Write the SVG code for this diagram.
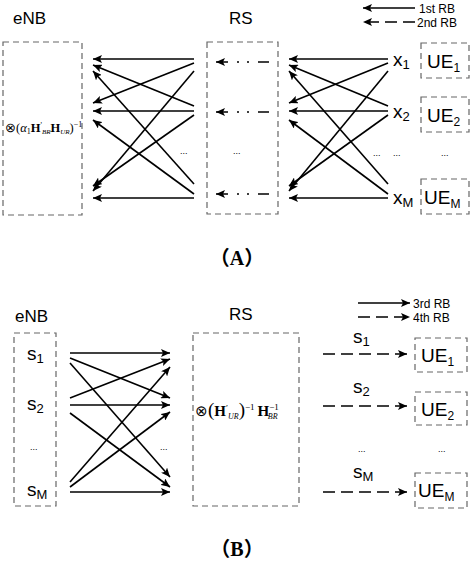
<svg xmlns="http://www.w3.org/2000/svg" width="474" height="566" viewBox="0 0 474 566">
<defs>
<marker id="ah" markerUnits="userSpaceOnUse" markerWidth="10" markerHeight="8" refX="9" refY="4" orient="auto">
<path d="M0,0 L9,4 L0,8 L2,4 Z" fill="#000"/>
</marker>
<style>
.box{fill:none;stroke:#666;stroke-width:1.2;stroke-dasharray:6 4}
.ln{stroke:#000;stroke-width:1.6;fill:none;marker-end:url(#ah)}
.dl{stroke:#000;stroke-width:1.6;fill:none;stroke-dasharray:12 6;marker-end:url(#ah)}
.dd{stroke:#000;stroke-width:1.6;fill:none;stroke-dasharray:11 9 2 8 2 9 30;marker-end:url(#ah)}
.t{font-family:"Liberation Sans",Arial,sans-serif;fill:#000}
.f{font-family:"Liberation Serif","Times New Roman",serif;fill:#000}
.cap{font-family:"Liberation Serif","Noto Sans CJK SC",serif;font-weight:bold;font-size:20px;fill:#000}
</style>
</defs>
<rect width="474" height="566" fill="#fff"/>

<!-- Panel A -->
<g id="eNB-A">
<text class="t" x="13" y="24" font-size="17">eNB</text>
<rect class="box" x="3" y="42" width="79" height="173"/>
<text class="f" x="5" y="132" font-size="12.5">⊗(<tspan font-style="italic">α</tspan><tspan font-size="8" dy="2">1</tspan><tspan font-weight="bold" dy="-2">H</tspan><tspan font-size="8" dy="-4">'</tspan><tspan font-size="7" font-style="italic" dy="6">BR</tspan><tspan font-weight="bold" dy="-2">H</tspan><tspan font-size="7" font-style="italic" dy="2">UR</tspan><tspan dy="-2">)</tspan><tspan font-size="8" dy="-5">−1</tspan></text>
</g>
<g id="RS-A">
<text class="t" x="229" y="24" font-size="17">RS</text>
<rect class="box" x="207" y="42" width="71" height="172"/>
<text class="t" x="233" y="154" font-size="9">...</text>
</g>
<g id="legend-A">
<text class="t" x="419" y="13" font-size="12">1st RB</text>
<text class="t" x="417" y="27" font-size="12">2nd RB</text>
</g>
<g id="x-labels">
<text class="t" x="393" y="66" font-size="19">x<tspan font-size="13" dy="3">1</tspan></text>
<text class="t" x="393" y="118" font-size="19">x<tspan font-size="13" dy="3">2</tspan></text>
<text class="t" x="393" y="204" font-size="19">x<tspan font-size="13" dy="3">M</tspan></text>
<text class="t" x="180" y="154" font-size="9">...</text>
<text class="t" x="373" y="156" font-size="9">...</text>
<text class="t" x="393" y="156" font-size="9">...</text>
<text class="t" x="441" y="156" font-size="9">...</text>
</g>
<g id="UE1-A">
<rect class="box" x="421" y="43" width="48" height="35"/>
<text class="t" x="427" y="68" font-size="19">UE<tspan font-size="12" dy="4">1</tspan></text>
</g>
<g id="UE2-A">
<rect class="box" x="421" y="97" width="48" height="35"/>
<text class="t" x="427" y="122" font-size="19">UE<tspan font-size="12" dy="4">2</tspan></text>
</g>
<g id="UEM-A">
<rect class="box" x="421" y="179" width="48" height="35"/>
<text class="t" x="424" y="204" font-size="19">UE<tspan font-size="12" dy="4">M</tspan></text>
</g>
<text class="cap" x="237" y="265" text-anchor="middle">（A）</text>

<!-- Panel B -->
<g id="eNB-B">
<text class="t" x="15" y="322" font-size="17">eNB</text>
<rect class="box" x="14" y="333" width="42" height="173"/>
<text class="t" x="27" y="360" font-size="19">s<tspan font-size="13" dy="3">1</tspan></text>
<text class="t" x="27" y="410" font-size="19">s<tspan font-size="13" dy="3">2</tspan></text>
<text class="t" x="30" y="450" font-size="9">...</text>
<text class="t" x="27" y="496" font-size="19">s<tspan font-size="13" dy="3">M</tspan></text>
<text class="t" x="160" y="450" font-size="9">...</text>
</g>
<g id="RS-B">
<text class="t" x="229" y="320" font-size="17">RS</text>
<rect class="box" x="193" y="333" width="106" height="173"/>
<text class="f" x="195" y="416" font-size="15">⊗<tspan font-size="19">(</tspan><tspan font-weight="bold">H</tspan><tspan font-size="9" dy="-5">′</tspan><tspan font-size="8" font-style="italic" dy="8">UR</tspan><tspan font-size="19" dy="-3">)</tspan><tspan font-size="9" dy="-6">−1</tspan><tspan font-weight="bold" dx="3" dy="6">H</tspan><tspan font-size="9" dy="-6">−1</tspan><tspan font-size="8" font-style="italic" dx="-11" dy="9">BR</tspan></text>
</g>
<g id="legend-B">
<text class="t" x="413" y="308" font-size="12">3rd RB</text>
<text class="t" x="413" y="322" font-size="12">4th RB</text>
</g>
<g id="s-labels-B">
<text class="t" x="353" y="343" font-size="19">s<tspan font-size="13" dy="3">1</tspan></text>
<text class="t" x="353" y="393" font-size="19">s<tspan font-size="13" dy="3">2</tspan></text>
<text class="t" x="353" y="478" font-size="19">s<tspan font-size="13" dy="3">M</tspan></text>
<text class="t" x="358" y="452" font-size="9">...</text>
<text class="t" x="438" y="452" font-size="9">...</text>
</g>
<g id="UE1-B">
<rect class="box" x="415" y="338" width="52" height="34"/>
<text class="t" x="421" y="362" font-size="19">UE<tspan font-size="12" dy="4">1</tspan></text>
</g>
<g id="UE2-B">
<rect class="box" x="415" y="392" width="52" height="33"/>
<text class="t" x="421" y="416" font-size="19">UE<tspan font-size="12" dy="4">2</tspan></text>
</g>
<g id="UEM-B">
<rect class="box" x="415" y="473" width="52" height="35"/>
<text class="t" x="418" y="497" font-size="19">UE<tspan font-size="12" dy="4">M</tspan></text>
</g>
<text class="cap" x="237" y="556" text-anchor="middle">（B）</text>

<g id="connectors">
<!-- A legend -->
<line class="ln" x1="415" y1="8" x2="363" y2="8"/>
<line class="dl" x1="415" y1="22" x2="363" y2="22"/>
<!-- A left group -->
<line class="ln" x1="194" y1="59" x2="93" y2="59"/>
<line class="ln" x1="194" y1="63" x2="93" y2="103"/>
<line class="ln" x1="194" y1="71" x2="93" y2="191"/>
<line class="ln" x1="194" y1="106" x2="93" y2="65"/>
<line class="ln" x1="194" y1="111" x2="93" y2="111"/>
<line class="ln" x1="194" y1="115" x2="93" y2="186"/>
<line class="ln" x1="194" y1="184" x2="93" y2="71"/>
<line class="ln" x1="194" y1="194" x2="93" y2="120"/>
<line class="ln" x1="194" y1="198" x2="93" y2="198"/>
<!-- A RS dash-dot -->
<line class="dd" x1="269" y1="62" x2="216" y2="62"/>
<line class="dd" x1="269" y1="112" x2="216" y2="112"/>
<line class="dd" x1="269" y1="194" x2="216" y2="194"/>
<!-- A right group -->
<line class="ln" x1="388" y1="59" x2="289" y2="59"/>
<line class="ln" x1="388" y1="63" x2="289" y2="103"/>
<line class="ln" x1="388" y1="71" x2="289" y2="191"/>
<line class="ln" x1="388" y1="106" x2="289" y2="65"/>
<line class="ln" x1="388" y1="111" x2="289" y2="111"/>
<line class="ln" x1="388" y1="115" x2="289" y2="186"/>
<line class="ln" x1="388" y1="184" x2="289" y2="71"/>
<line class="ln" x1="388" y1="194" x2="289" y2="120"/>
<line class="ln" x1="388" y1="198" x2="289" y2="198"/>
<!-- B legend -->
<line class="ln" x1="358" y1="303" x2="410" y2="303"/>
<line class="dl" x1="358" y1="317" x2="410" y2="317"/>
<!-- B left group -->
<line class="ln" x1="70" y1="353" x2="170" y2="353"/>
<line class="ln" x1="70" y1="358" x2="170" y2="398"/>
<line class="ln" x1="70" y1="363" x2="170" y2="477"/>
<line class="ln" x1="70" y1="398" x2="170" y2="359"/>
<line class="ln" x1="70" y1="405" x2="170" y2="405"/>
<line class="ln" x1="70" y1="413" x2="170" y2="487"/>
<line class="ln" x1="70" y1="482" x2="170" y2="367"/>
<line class="ln" x1="70" y1="487" x2="170" y2="412"/>
<line class="ln" x1="70" y1="492" x2="170" y2="492"/>
<!-- B dashed to UEs -->
<line class="dl" x1="323" y1="354" x2="407" y2="354"/>
<line class="dl" x1="323" y1="406" x2="407" y2="406"/>
<line class="dl" x1="323" y1="492" x2="407" y2="492"/>
</g>
</svg>
